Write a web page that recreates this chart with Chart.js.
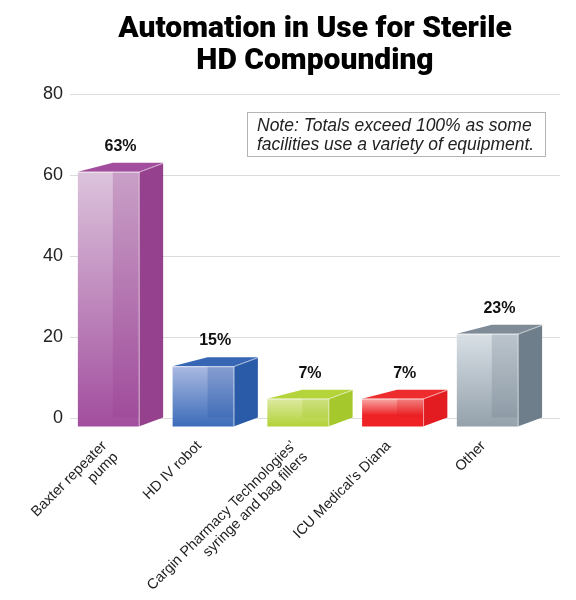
<!DOCTYPE html>
<html>
<head>
<meta charset="utf-8">
<script src="https://cdn.jsdelivr.net/npm/chart.js@4.4.1/dist/chart.umd.min.js"></script>
<style>
  html, body { margin: 0; padding: 0; background: #ffffff; }
  #wrap { width: 576px; height: 600px; }
</style>
</head>
<body>
<div id="wrap"><canvas id="c" width="576" height="600"></canvas></div>
<script>
// ---- data ----
const categories = [
  ['Baxter repeater', 'pump'],
  'HD IV robot',
  ['Cargin Pharmacy Technologies\u2019', 'syringe and bag fillers'],
  'ICU Medical\u2019s Diana',
  'Other'
];
const values = [63, 15, 7, 7, 23];
const yTicks = [0, 20, 40, 60, 80];
const titleLines = ['Automation in Use for Sterile', 'HD Compounding'];
const noteLines = ['Note: Totals exceed 100% as some', 'facilities use a variety of equipment.'];

// ---- styles ----
const frontTop    = ['#dcc4dc', '#aab9e1', '#dde9a3', '#f8aaa7', '#d9e0e6'];
const frontBottom = ['#a24e9e', '#3c6cb9', '#b2d236', '#ee2125', '#94a1ab'];
const frontStop   = [1, 1, 1, 0.6, 1];
const sideColors  = ['#96418e', '#2a5ba8', '#a5c82c', '#e31c22', '#6e7e8b'];
const topColors   = ['#a24d9d', '#3767b4', '#b5d33b', '#ee2b2d', '#7f8c97'];

const baseFamily = '"Liberation Sans", Arial, Helvetica, sans-serif';
const titleFamily = 'Roboto, "Liberation Sans", Arial, sans-serif';
const labelFont = { family: baseFamily, size: 14.5, lineHeight: 1.1 };

const xMin = -0.533, xMax = 4.639, labelShift = 0.169;
const intTicks = (s) => { s.ticks = categories.map((_, i) => ({ value: i })); };

const bar3d = {
  id: 'bar3d',
  afterDatasetsDraw(chart) {
    const ctx = chart.ctx;
    const meta = chart.getDatasetMeta(0);
    const dy = 9;
    meta.data.forEach((el, i) => {
      const p = el.getProps(['x', 'y', 'base', 'width'], true);
      const w = p.width;
      const fl = p.x - w / 2, fr = fl + 0.715 * w, bl = fl + 0.41 * w, br = p.x + w / 2;
      const bt = p.y, bb = p.base, ft = bt + dy, fb = bb + dy;
      ctx.save();
      // side face
      ctx.fillStyle = sideColors[i];
      ctx.beginPath();
      ctx.moveTo(fr, ft); ctx.lineTo(br, bt); ctx.lineTo(br, bb); ctx.lineTo(fr, fb);
      ctx.closePath(); ctx.fill();
      // top face
      ctx.fillStyle = topColors[i];
      ctx.beginPath();
      ctx.moveTo(fl, ft); ctx.lineTo(bl, bt); ctx.lineTo(br, bt); ctx.lineTo(fr, ft);
      ctx.closePath(); ctx.fill();
      // front face
      const g = ctx.createLinearGradient(0, ft, 0, fb);
      g.addColorStop(0, frontTop[i]);
      g.addColorStop(frontStop[i], frontBottom[i]);
      if (frontStop[i] < 1) g.addColorStop(1, frontBottom[i]);
      ctx.fillStyle = g;
      ctx.fillRect(fl, ft, fr - fl, fb - ft);
      // back face seen through the front
      ctx.globalAlpha = 0.28;
      ctx.fillStyle = sideColors[i];
      ctx.fillRect(bl, ft, fr - bl, bb - ft);
      ctx.globalAlpha = 1;
      // highlights
      ctx.strokeStyle = 'rgba(255,255,255,0.55)';
      ctx.lineWidth = 1;
      ctx.beginPath();
      ctx.moveTo(fr + 0.5, ft); ctx.lineTo(fr + 0.5, fb);
      ctx.moveTo(fl, ft + 0.5); ctx.lineTo(fr, ft + 0.5); ctx.lineTo(br, bt + 0.5);
      ctx.stroke();
      ctx.restore();
      // value label
      ctx.save();
      ctx.fillStyle = '#111111';
      ctx.font = 'bold 16px ' + baseFamily;
      ctx.textAlign = 'center';
      ctx.textBaseline = 'alphabetic';
      ctx.fillText(values[i] + '%', p.x, bt - 12);
      ctx.restore();
    });
  }
};

const notePlugin = {
  id: 'note',
  afterDraw(chart) {
    const ctx = chart.ctx, a = chart.chartArea;
    const w = 299, h = 45;
    const left = a.right - 14 - w, top = a.top + 18;
    ctx.save();
    ctx.fillStyle = '#ffffff';
    ctx.fillRect(left, top, w, h);
    ctx.strokeStyle = '#b4b4b4';
    ctx.lineWidth = 1;
    ctx.strokeRect(left + 0.5, top + 0.5, w - 1, h - 1);
    ctx.fillStyle = '#222222';
    ctx.font = 'italic 17.5px ' + baseFamily;
    ctx.textAlign = 'left';
    ctx.textBaseline = 'alphabetic';
    noteLines.forEach((t, k) => ctx.fillText(t, left + 10, top + 19 + k * 19));
    ctx.restore();
  }
};

new Chart(document.getElementById('c'), {
  type: 'bar',
  data: {
    datasets: [{
      data: values.map((v, i) => ({ x: i, y: v })),
      backgroundColor: 'rgba(0,0,0,0)',
      borderWidth: 0,
      barPercentage: 0.9,
      categoryPercentage: 1.0,
      xAxisID: 'x',
      yAxisID: 'y'
    }]
  },
  options: {
    responsive: false,
    animation: false,
    events: [],
    layout: { padding: { left: 0, right: 16, top: 0, bottom: 0 } },
    plugins: {
      legend: { display: false },
      tooltip: { enabled: false },
      title: {
        display: true,
        text: titleLines,
        color: '#000000',
        fullSize: false,
        font: { family: titleFamily, size: 30, weight: 900, lineHeight: 32 / 30 },
        padding: { top: 13, bottom: 17 }
      }
    },
    scales: {
      x: {
        type: 'linear',
        display: false,
        min: xMin,
        max: xMax,
        offset: false,
        grid: { offset: false },
        afterBuildTicks: intTicks
      },
      xl: {
        type: 'linear',
        position: 'bottom',
        min: xMin + labelShift,
        max: xMax + labelShift,
        offset: false,
        grid: { display: false, offset: false },
        border: { display: false },
        afterBuildTicks: intTicks,
        afterFit: (s) => { s.height = 182; },
        ticks: {
          autoSkip: false,
          minRotation: 45,
          maxRotation: 45,
          padding: 12,
          color: '#222222',
          font: labelFont,
          callback: (v) => categories[v]
        }
      },
      y: {
        min: 0,
        max: 80,
        afterBuildTicks: (s) => { s.ticks = yTicks.map(v => ({ value: v })); },
        afterFit: (s) => { s.width = 70; },
        grid: { color: '#dcdcdc', lineWidth: 1, drawTicks: false },
        border: { display: false },
        ticks: {
          padding: 7,
          color: '#222222',
          font: { family: baseFamily, size: 18 }
        }
      }
    }
  },
  plugins: [bar3d, notePlugin]
});
</script>
</body>
</html>
